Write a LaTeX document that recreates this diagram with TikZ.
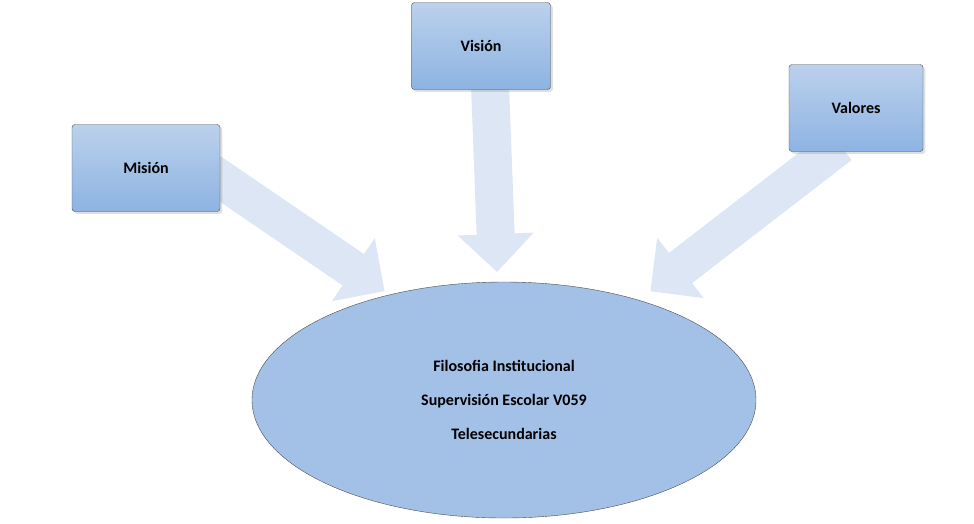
\documentclass[tikz,border=0pt]{standalone}
\usepackage{fontspec}
\setmainfont{Carlito}
\usetikzlibrary{arrows.meta,shadows,shapes.geometric}
\tikzset{
	box/.style ={rectangle, rounded corners=3pt, draw=black!70, top color=boxtop, bottom color=boxbot,
		minimum width=140pt, minimum height=87pt, font=\bfseries\fontsize{16}{19}\selectfont, drop shadow={opacity=0.25}},
	big/.style ={ellipse, draw=black!70, fill=ellblue, minimum width=504pt, minimum height=236pt,
		align=center, font=\bfseries\fontsize{16}{34}\selectfont},
	flow/.style={draw=flowblue, line width=38pt, -{Triangle[length=38pt,width=74pt]}, shorten >=-2pt}
}
\definecolor{boxtop}{HTML}{BBD1EC}
\definecolor{boxbot}{HTML}{8DB3E2}
\definecolor{ellblue}{HTML}{A3C1E6}
\definecolor{flowblue}{HTML}{DCE6F4}
\begin{document}
\begin{tikzpicture}[x=1pt,y=-1pt]
    \useasboundingbox (0,0) rectangle (974,523);

    % arrow ends
    \coordinate (m0) at (210,172);
    \coordinate (m1) at (383,290);
    \coordinate (v0) at (490,85);
    \coordinate (v1) at (497,270);
    \coordinate (w0) at (840,145);
    \coordinate (w1) at (652,290);

    \draw[flow] (m0) -- (m1);
    \draw[flow] (v0) -- (v1);
    \draw[flow] (w0) -- (w1);

    \node[box, minimum width=148pt] (mision) at (146,168) {Misión};
    \node[box, minimum width=139pt] (vision) at (481,46) {Visión};
    \node[box, minimum width=134pt] (valores) at (856,108) {Valores};

    \node[big] (filo) at (504,400) {Filosofia Institucional\\Supervisión Escolar V059\\Telesecundarias};
\end{tikzpicture}
\end{document}
